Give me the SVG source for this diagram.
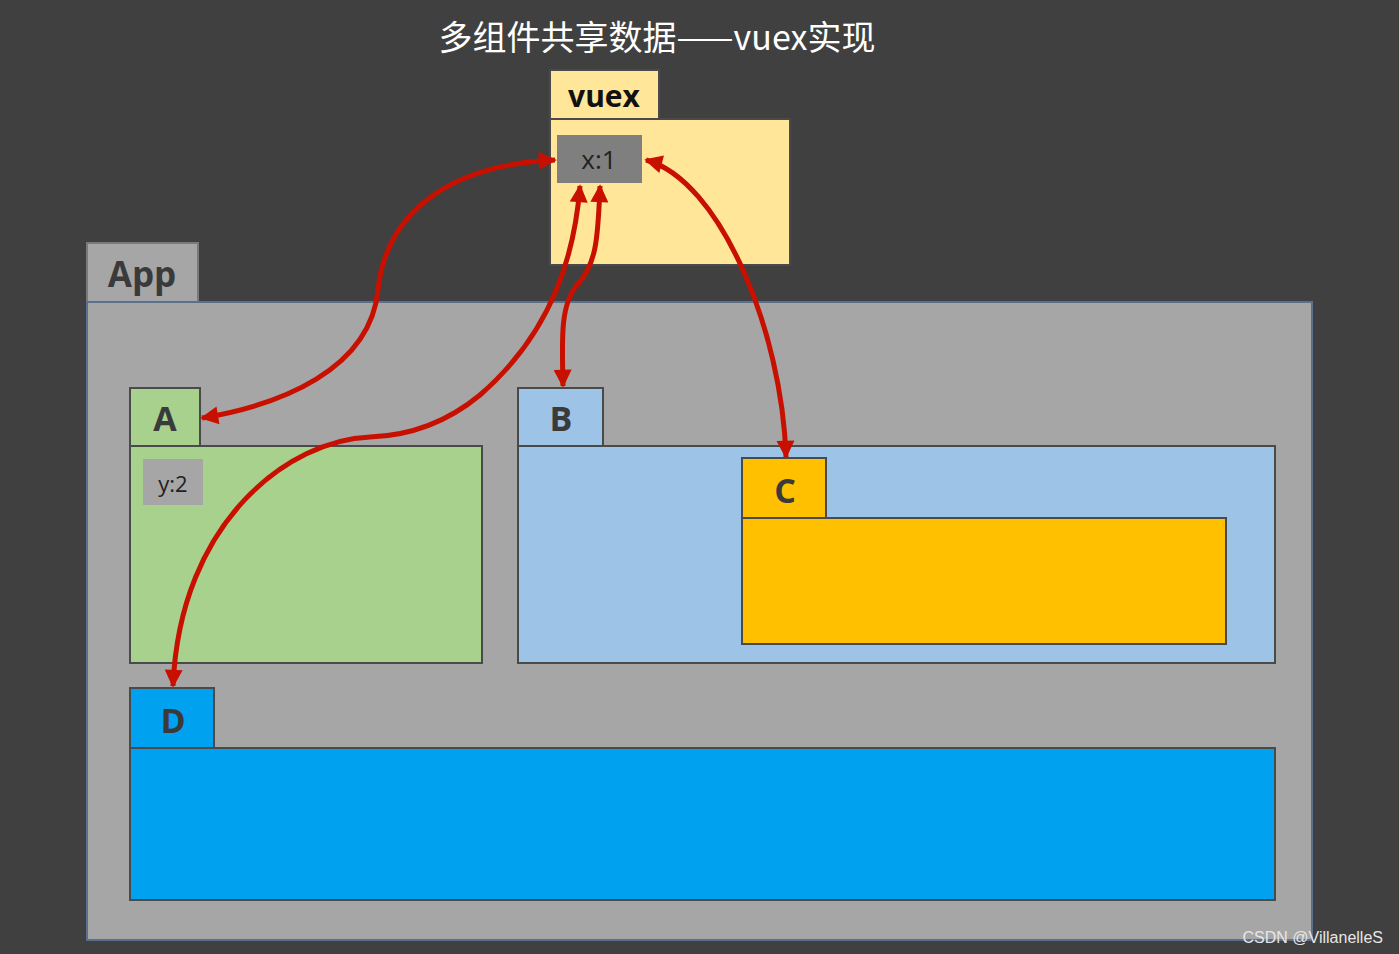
<svg xmlns="http://www.w3.org/2000/svg" width="1399" height="954" viewBox="0 0 1399 954">
<defs>
<style>
.lbl{font-family:"Open Sans","Noto Sans",sans-serif;font-weight:bold;fill:#3a3a3a;text-anchor:middle;dominant-baseline:central}
.val{font-family:"Open Sans","Noto Sans",sans-serif;fill:#222;text-anchor:middle;dominant-baseline:central}
.bx{stroke:#4a4a4a;stroke-width:2}
.conn{fill:none;stroke:#c81000;stroke-width:5;marker-start:url(#ah);marker-end:url(#ah)}
</style>
<marker id="ah" viewBox="0 0 10 10" refX="9" refY="5" markerWidth="3.8" markerHeight="3.6" markerUnits="strokeWidth" orient="auto-start-reverse">
<path d="M0,0 L10,5 L0,10 z" fill="#c81000"/>
</marker>
</defs>
<rect width="1399" height="954" fill="#404040"/>
<text x="657" y="35" font-family="'Noto Sans CJK SC','Noto Sans',sans-serif" font-size="34" fill="#ffffff" text-anchor="middle" dominant-baseline="central">多组件共享数据——vuex实现</text>

<g id="app">
<rect x="87" y="243" width="111" height="59" fill="#a6a6a6" stroke="#7a7a7a" stroke-width="2"/>
<rect x="87" y="302" width="1225" height="638" fill="#a6a6a6" stroke="#5b6f8f" stroke-width="2"/>
<text class="lbl" x="142" y="273" font-size="35">App</text>
</g>

<g id="vuex">
<rect class="bx" x="550" y="70" width="109" height="49" fill="#ffe699"/>
<rect class="bx" x="550" y="119" width="240" height="146" fill="#ffe699"/>
<text class="lbl" x="604" y="95" font-size="30" style="fill:#111">vuex</text>
<rect x="557" y="135" width="85" height="48" fill="#7f7f7f"/>
<text class="val" x="599" y="159" font-size="26">x:1</text>
</g>

<g id="A">
<rect class="bx" x="130" y="388" width="70" height="58" fill="#a9d18e"/>
<rect class="bx" x="130" y="446" width="352" height="217" fill="#a9d18e"/>
<text class="lbl" x="165" y="418" font-size="34">A</text>
<rect x="143" y="459" width="60" height="46" fill="#a6a6a6"/>
<text class="val" x="173" y="483" font-size="22">y:2</text>
</g>

<g id="B">
<rect class="bx" x="518" y="388" width="85" height="58" fill="#9dc3e6"/>
<rect class="bx" x="518" y="446" width="757" height="217" fill="#9dc3e6"/>
<text class="lbl" x="561" y="418" font-size="34">B</text>
</g>

<g id="C">
<rect class="bx" x="742" y="458" width="84" height="60" fill="#ffc000"/>
<rect class="bx" x="742" y="518" width="484" height="126" fill="#ffc000"/>
<text class="lbl" x="785" y="490" font-size="34">C</text>
</g>

<g id="D">
<rect class="bx" x="130" y="688" width="84" height="60" fill="#00a2f0"/>
<rect class="bx" x="130" y="748" width="1145" height="152" fill="#00a2f0"/>
<text class="lbl" x="173" y="720" font-size="34">D</text>
</g>

<g id="connectors">
<path class="conn" d="M555 160 C440 165 385 220 378 290 C370 370 280 405 202 418"/>
<path class="conn" d="M580 186 C575 250 555 330 480 395 C440 428 400 436 370 437 C290 440 180 520 173 686"/>
<path class="conn" d="M600 186 C598 240 596 265 577 285 C560 305 562 340 563 386"/>
<path class="conn" d="M646 160 C720 180 782 330 786 457"/>
</g>

<text x="1383" y="937" font-family="'Liberation Sans',Arial,sans-serif" font-size="16" fill="#e6e6e6" text-anchor="end" dominant-baseline="central">CSDN @VillanelleS</text>
</svg>
